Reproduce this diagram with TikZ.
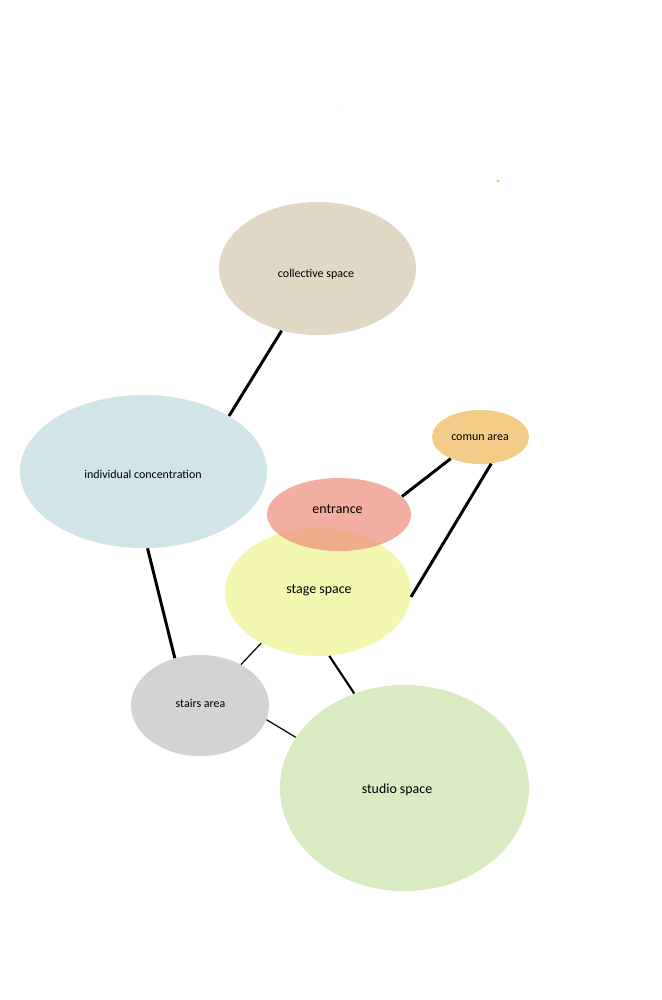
\documentclass[tikz,border=0pt]{standalone}
\usepackage{fontspec}
\setmainfont{Carlito}
\usepackage{tikz}
\usetikzlibrary{shapes.geometric}

\definecolor{collbeige}{RGB}{224,216,197}
\definecolor{indivblue}{RGB}{209,228,232}
\definecolor{comunorange}{RGB}{243,205,136}
\definecolor{entrsalmon}{RGB}{238,139,122}
\definecolor{stageyellow}{RGB}{244,247,176}
\definecolor{stairsgray}{RGB}{211,211,211}
\definecolor{studiogreen}{RGB}{216,235,195}

\begin{document}
\begin{tikzpicture}[x=0.025cm, y=-0.025cm,
		space/.style={shape=ellipse, inner sep=0pt},
		small/.style={font=\fontsize{8.5}{10}\selectfont},
		big/.style={font=\fontsize{9.9}{12}\selectfont},
		link/.style={line width=2.1pt},
		thinlink/.style={line width=0.85pt}]
		\useasboundingbox (0, 0) rectangle (662, 1000);
		% Spaces:
		\node[space, fill=collbeige, minimum width=4.925cm, minimum height=3.325cm](Coll) at (317.5, 268.5){};
		\node[space, fill=indivblue, minimum width=6.175cm, minimum height=3.825cm](Indiv) at (143.5, 471.5){};
		\node[space, fill=comunorange, minimum width=2.425cm, minimum height=1.35cm](Comun) at (480.5, 437){};
		\node[space, fill=stageyellow, minimum width=4.65cm, minimum height=3.2cm](Stage) at (318, 592){};
		\node[space, fill=entrsalmon, fill opacity=0.7, minimum width=3.6cm, minimum height=1.825cm](Entr) at (339, 514.5){};
		\node[space, fill=stairsgray, minimum width=3.45cm, minimum height=2.525cm](Stairs) at (200, 705.5){};
		\node[space, fill=studiogreen, minimum width=6.225cm, minimum height=5.15cm](Studio) at (404.5, 788){};
		% Labels:
		\node[small](CollText) at (316, 274){collective space};
		\node[small](IndivText) at (143, 474){individual concentration};
		\node[small](ComunText) at (480, 438){comun area};
		\node[big](EntrText) at (337.5, 509){entrance};
		\node[big](StageText) at (319, 590){stage space};
		\node[small](StairsText) at (200.5, 703){stairs area};
		\node[big](StudioText) at (397, 790){studio space};
		% Dots:
		\fill[indivblue!80!black!40] (343, 110) circle (0.6);
		\fill[comunorange!80!orange] (498, 181) circle (1.6);
		% Links:
		\draw[link] (Coll.240) -- (Indiv.33);
		\draw[link] (Entr.16.5) -- (Comun.216);
		\draw[link] (Comun.292) -- (Stage.357);
		\draw[link] (Indiv.273) -- (Stairs.118);
		\draw[thinlink] (Stairs.45) -- (Stage.222);
		\draw[link, line width=1.5pt] (Stage.280) -- (Studio.118);
		\draw[thinlink] (Stairs.348) -- (Studio.155);
	\end{tikzpicture}
\end{document}
